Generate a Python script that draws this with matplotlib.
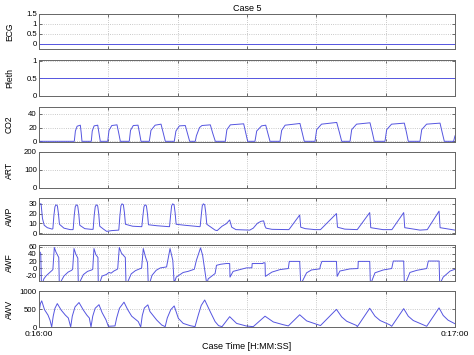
import matplotlib
matplotlib.use("Agg")
import matplotlib.pyplot as plt
from matplotlib.ticker import FixedLocator, FixedFormatter

plt.rcParams['font.family'] = ['Liberation Sans', 'DejaVu Sans']

# ---------------- data (time in seconds after 0:16:00) ----------------
ecg_t = [0, 60]
ecg_v = [0, 0]

pleth_t = [0, 60]
pleth_v = [0.5, 0.5]

co2_t = [0, 5.09, 5.25, 5.50, 5.96, 6.08, 6.20,
         7.54, 7.68, 7.95, 8.47, 8.65, 8.84,
         9.91, 10.10, 10.50, 11.25, 11.50, 11.73,
         13.02, 13.20, 13.60, 14.28, 14.50, 14.71,
         15.91, 16.15, 16.75, 17.60, 17.90, 18.22,
         19.51, 19.75, 20.25, 21.10, 21.40, 21.73,
         22.54, 22.70, 22.85, 23.15, 23.50, 24.71, 25.05, 25.43,
         26.87, 27.10, 27.60, 29.52, 29.80, 30.10,
         31.15, 31.40, 32.10, 32.70, 33.00, 33.32,
         34.76, 35.00, 35.50, 37.64, 37.95, 38.26,
         39.81, 40.05, 40.75, 42.94, 43.30, 43.66,
         44.86, 45.10, 45.80, 47.74, 48.05, 48.36,
         49.90, 50.15, 50.85, 52.69, 53.00, 53.26,
         54.95, 55.20, 55.90, 57.84, 58.15, 58.46,
         59.80, 60.0]
co2_v = [0, 0, 15, 22, 23.5, 13, 0,
         0, 15, 22.5, 23.5, 12, 0,
         0, 16, 23, 24, 12, 0,
         0, 16, 23, 23.5, 12, 0,
         0, 16, 23.5, 25, 13, 0,
         0, 15, 22.5, 23, 12, 0,
         0, 8, 12, 20, 23, 24, 12, 0,
         0, 17, 24, 25.5, 13, 0,
         0, 15, 22.5, 23.5, 12, 0,
         0, 16, 23.5, 26, 13, 0,
         0, 17, 25, 27.5, 14, 0,
         0, 17, 25, 27, 14, 0,
         0, 17, 25, 26.5, 13, 0,
         0, 17, 25, 26.5, 13, 0,
         0, 8]

awp_t = [0, 0.3, 0.5, 0.75, 1.2, 1.9,
         2.0, 2.15, 2.3, 2.45, 2.65, 2.8, 2.95, 3.6, 4.5, 4.9,
         4.93, 5.08, 5.23, 5.38, 5.58, 5.73, 5.88, 6.6, 7.5, 7.8,
         7.81, 7.96, 8.11, 8.26, 8.46, 8.61, 8.76, 9.3, 9.76, 10.5, 11.5,
         11.52, 11.67, 11.82, 11.97, 12.17, 12.32, 12.47, 13.5, 14.8,
         14.84, 14.99, 15.14, 15.29, 15.49, 15.64, 15.79, 17.0, 18.8,
         18.83, 18.98, 19.13, 19.28, 19.48, 19.63, 19.78, 21.0, 23.2,
         23.25, 23.4, 23.55, 23.7, 23.9, 24.05, 24.2, 25.0, 25.4, 25.7,
         26.4, 27.0, 27.5, 27.8, 28.4, 30.4,
         30.9, 31.5, 32.0, 32.4, 32.6, 32.75, 33.6, 36.0,
         36.1, 37.6, 37.75, 38.4, 39.8, 40.6,
         42.9, 43.05, 44.1, 45.9,
         47.7, 47.85, 49.6, 50.9,
         52.6, 52.75, 54.95, 56.0,
         57.7, 57.85, 60.0]
awp_v = [30, 30, 15, 8, 5.5, 4,
         4.5, 18, 27, 29, 28, 20, 9, 5, 3.5, 3.5,
         4, 18, 27, 29, 28, 20, 8, 4.5, 3.8, 3.8,
         4, 18, 27, 29, 28, 20, 7, 4, 1.7, 2.5, 3,
         4, 18, 28, 30, 29, 21, 9, 7, 6.5,
         7, 18, 27, 29, 28, 20, 8.5, 7.5, 6.5,
         7, 18, 28, 30, 29, 21, 9, 8, 6.5,
         7, 18, 28, 30, 29, 21, 9, 5, 3, 2.5,
         7, 9.5, 13.4, 6, 3.5, 3,
         5, 10, 12, 12.5, 7, 5, 3.8, 3.5,
         4, 18.5, 6, 4.5, 3.5, 3.5,
         20, 6, 4, 3.5,
         21, 5.5, 3.5, 3.5,
         21, 5.5, 3.0, 3.5,
         22.5, 5.5, 3.0]

awf_t = [0, 0.1, 0.25, 0.35, 0.6, 0.7, 1.0, 1.5, 1.9, 2.0, 2.21, 2.45, 2.85, 2.93,
         3.2, 3.6, 4.2, 4.7, 4.85, 5.05, 5.3, 5.6, 5.67,
         5.95, 6.4, 7.0, 7.6, 7.75, 7.93, 8.2, 8.5, 8.55,
         8.85, 9.1, 9.7, 10.1, 10.4, 10.8, 11.2, 11.35, 11.58, 11.9, 12.45, 12.55,
         12.85, 13.3, 13.9, 14.5, 14.8, 15.04, 15.35, 15.65, 15.76,
         16.05, 16.3, 16.9, 17.5, 18.4, 18.9, 19.3, 19.5,
         19.6, 19.8, 20.8, 21.5, 22.4, 22.7, 23.3, 23.6, 24.2,
         24.4, 25.4, 25.6, 26.2, 27.0, 27.5, 27.55, 28.0, 29.9, 30.7,
         30.75, 32.3, 32.35, 32.6, 32.65, 33.6, 34.76, 35.96,
         36.1, 37.6, 37.75, 38.0, 38.6, 39.3, 40.5,
         40.6, 40.8, 42.9, 43.0, 43.4, 44.86, 46.0,
         46.05, 47.7, 47.8, 48.0, 48.46, 49.66, 50.87,
         51.1, 52.6, 52.7, 53.0, 53.5, 54.5, 55.92,
         56.15, 57.7, 57.8, 58.3, 59.3, 60.0]
awf_v = [45, 46, 42, -45, -36, -30, -22, -13, -6, -4, 58, 45, 30, -45,
         -36, -22, -11, -6, -3, 55, 40, 28, -45,
         -36, -18, -9, -5, -3, 55, 38, 30, -45,
         -36, -22, -18, -12, -14, -8, -4, -2, 58, 42, 30, -45,
         -36, -16, -7, -2, 0, 55, 32, 15, -45,
         -36, -20, -6, 0.7, 3.5, 55, 22, -45,
         -36, -25, -12, -9, -3, 22, 57, 36, -45,
         -30, -15, 8, 11, 13, 13, -25, -9, 0.7, 1,
         13, 13, 15, 15, -23, -11, -4, -1,
         19, 19, -45, -36, -13, -5, -2,
         8, 19, 19, -23, -8, -2, -1,
         19, 19, -45, -36, -13, -5, -1,
         20, 20, -45, -36, -12, -6, -1,
         20, 20, -45, -25, -8, -3]

awv_t = [0, 0.2, 0.39, 0.8, 1.3, 1.59, 1.83,
         2.05, 2.3, 2.64, 3.2, 3.8, 4.23, 4.57,
         4.8, 5.2, 5.77, 6.4, 6.9, 7.26, 7.5,
         7.75, 8.1, 8.65, 9.1, 9.66, 10.0, 10.96,
         11.2, 11.6, 12.26, 12.8, 13.37, 14.32, 14.67,
         14.9, 15.2, 15.7, 16.0, 16.97, 17.7, 18.2,
         18.5, 19.0, 19.5, 20.1, 20.8, 21.8, 22.5,
         23.0, 23.4, 23.9, 24.7, 25.4, 25.9, 26.4,
         27.5, 28.5, 29.9, 30.9,
         32.6, 33.8, 35.2, 35.96,
         37.6, 38.6, 40.05, 40.6,
         42.9, 43.66, 44.38, 45.82, 45.9,
         47.7, 48.46, 49.2, 50.6, 50.87,
         52.6, 53.26, 53.98, 55.43, 55.92,
         57.7, 58.3, 59.0, 60.0]
awv_v = [400, 650, 726, 480, 330, 190, 0,
         300, 520, 650, 470, 330, 250, 0,
         300, 560, 680, 470, 330, 250, 0,
         300, 520, 620, 400, 200, 20, 30,
         250, 520, 690, 480, 300, 150, 0,
         320, 530, 615, 430, 195, 55, 10,
         250, 480, 585, 240, 100, 37, 10,
         350, 600, 750, 425, 150, 37, 10,
         287, 100, 28, 10,
         300, 140, 65, 30,
         340, 170, 75, 40,
         490, 280, 160, 40, 5,
         520, 300, 180, 60, 20,
         510, 300, 180, 60, 20,
         530, 320, 190, 90]

xtick_vals = [0, 10, 20, 30, 40, 50, 60]
xtick_labels = ['0:16:00', '', '', '', '', '', '0:17:00']

panels = [
    ("ECG", ecg_t, ecg_v, (-0.25, 1.5), [0, 0.5, 1, 1.5], ['0', '0.5', '1', '1.5']),
    ("Pleth", pleth_t, pleth_v, (0, 1.02), [0, 0.5, 1], ['0', '0.5', '1']),
    ("CO2", co2_t, co2_v, (-1, 50), [0, 20, 40], ['0', '20', '40']),
    ("ART", None, None, (0, 200), [0, 100, 200], ['0', '100', '200']),
    ("AWP", awp_t, awp_v, (-1, 36), [0, 10, 20, 30], ['0', '10', '20', '30']),
    ("AWF", awf_t, awf_v, (-36, 65), [-20, 0, 20, 40, 60], ['-20', '0', '20', '40', '60']),
    ("AWV", awv_t, awv_v, (0, 1000), [0, 500, 1000], ['0', '500', '1000']),
]

# pixel layout (top, bottom) of each panel
W, H = 474, 355
boxes = [(14, 49), (60, 96), (107, 142), (152, 188), (198, 234), (245, 281), (291, 327)]
left_px, right_px = 39, 455

fig = plt.figure(figsize=(W / 100, H / 100), dpi=100)
line_col = '#5555e0'
axes = []
for (name, t, v, ylim, yt, ytl), (top, bot) in zip(panels, boxes):
    ax = fig.add_axes([left_px / W, 1 - bot / H, (right_px - left_px) / W, (bot - top) / H])
    if t is not None:
        ax.plot(t, v, color=line_col, lw=0.7)
    ax.set_xlim(0, 60)
    ax.set_ylim(*ylim)
    ax.yaxis.set_major_locator(FixedLocator(yt))
    ax.yaxis.set_major_formatter(FixedFormatter(ytl))
    ax.xaxis.set_major_locator(FixedLocator(xtick_vals))
    if name == "AWV":
        ax.xaxis.set_major_formatter(FixedFormatter(xtick_labels))
    else:
        ax.xaxis.set_major_formatter(FixedFormatter([''] * len(xtick_vals)))
    ax.tick_params(direction='in', top=True, right=True, length=2.5, width=0.6,
                   pad=1.5, colors='#555555', labelcolor='black')
    ax.tick_params(axis='y', labelsize=5.6)
    ax.tick_params(axis='x', labelsize=6.0, pad=3)
    ax.grid(True, linestyle=':', color='#b8b8b8', lw=0.6)
    for s in ax.spines.values():
        s.set_color('#666666')
        s.set_linewidth(0.7)
    ax.set_ylabel(name, fontsize=6.2)
    axes.append(ax)

for ax in axes:
    ax.yaxis.set_label_coords(-0.06, 0.5)

axes[0].set_title("Case 5", fontsize=6.5, pad=2)
axes[-1].set_xlabel("Case Time [H:MM:SS]", fontsize=6.5, labelpad=3)

fig.savefig("out.png", dpi=100, facecolor='white')
